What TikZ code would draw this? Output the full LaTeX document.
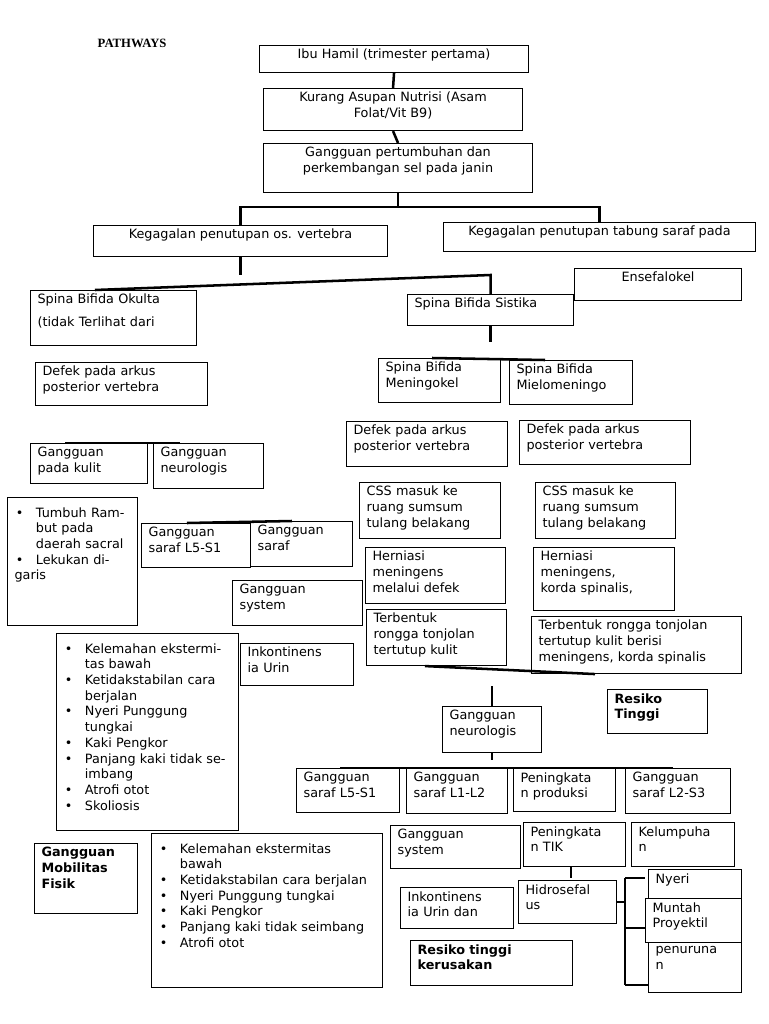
\documentclass[tikz,border=0pt]{standalone}
\usepackage{fontspec}
\setmainfont{DejaVu Sans}
\newfontfamily\tms{Liberation Serif}
\usetikzlibrary{calc}
\tikzset{
  box/.style={draw,line width=0.8pt,anchor=north west,inner sep=0pt},
  txt/.style={anchor=north west,inner sep=0pt,align=left,font=\fontsize{9.6}{11.8}\selectfont},
  txtc/.style={anchor=north,inner sep=0pt,align=center,font=\fontsize{9.6}{11.8}\selectfont},
  conn/.style={line width=1.9pt}
}
\newcommand\bx[6]{%
  \pgfmathsetlengthmacro\bw{(#4-#2)*0.75pt}\pgfmathsetlengthmacro\bh{(#5-#3)*0.75pt}%
  \pgfmathsetlengthmacro\tw{(#4-#2-12)*0.75pt}%
  \node[box,minimum width=\bw,minimum height=\bh] (#1) at (#2,#3) {};
  \node[txt,text width=\tw] at ([xshift=5.5pt,yshift=-3pt]#1.north west) {#6};}
\newcommand\bxc[6]{%
  \pgfmathsetlengthmacro\bw{(#4-#2)*0.75pt}\pgfmathsetlengthmacro\bh{(#5-#3)*0.75pt}%
  \node[box,minimum width=\bw,minimum height=\bh] (#1) at (#2,#3) {};
  \node[txtc] at ([yshift=-3pt]#1.north) {#6};}
\newcommand\itm[1]{\par\hangindent=16pt\hangafter=1\noindent\makebox[16pt][l]{\hspace{1pt}\textbullet}#1}
\begin{document}
\begin{tikzpicture}[x=0.75pt,y=-0.75pt]
\useasboundingbox (0,0) rectangle (768,1024);
\node[anchor=west,font=\tms\bfseries\fontsize{9.5}{11}\selectfont] (title) at (93,43) {PATHWAYS};
\bxc{n1}{259}{45}{528}{72}{Ibu Hamil (trimester pertama)}
\bxc{n2}{263}{88}{522}{130}{Kurang Asupan Nutrisi (Asam\\Folat/Vit B9)}
\bxc{n3}{263}{143}{532}{192}{Gangguan pertumbuhan dan\\perkembangan sel pada janin}
\bxc{n4}{93}{225}{387}{256}{Kegagalan penutupan os. vertebra}
\bxc{n5}{443}{222}{755}{251}{Kegagalan penutupan tabung saraf pada}
\bxc{n6}{574}{268}{741}{300}{Ensefalokel}
\bx{n7}{30}{290}{196}{345}{Spina Bifida Okulta\\[5pt](tidak Terlihat dari}
\bx{n8}{407}{294}{573}{325}{Spina Bifida Sistika}
\bx{n9}{35}{362}{207}{405}{Defek pada arkus\\posterior vertebra}
\bx{n10}{30}{443}{147}{483}{Gangguan\\pada kulit}
\bx{n11}{153}{443}{263}{488}{Gangguan\\neurologis}
\bx{n12}{7}{497}{137}{625}{\itm{Tumbuh Rambut pada daerah sacral}\itm{Lekukan digaris}}
\bx{n13}{141}{523}{250}{567}{Gangguan\\saraf L5-S1}
\bx{n14}{250}{521}{352}{566}{Gangguan\\saraf}
\bx{n15}{232}{580}{362}{625}{Gangguan\\system}
\bx{n16}{240}{643}{353}{685}{Inkontinens\\ia Urin}
\bx{n17}{56}{633}{238}{830}{\itm{Kelemahan ekstermitas bawah}\itm{Ketidakstabilan cara berjalan}\itm{Nyeri Punggung tungkai}\itm{Kaki Pengkor}\itm{Panjang kaki tidak seimbang}\itm{Atrofi otot}\itm{Skoliosis}}
\bx{n18}{34}{843}{137}{913}{\textbf{Gangguan}\\\textbf{Mobilitas}\\\textbf{Fisik}}
\bx{n19}{378}{358}{500}{402}{Spina Bifida\\Meningokel}
\bx{n20}{509}{360}{632}{404}{Spina Bifida\\Mielomeningo}
\bx{n21}{346}{421}{507}{466}{Defek pada arkus\\posterior vertebra}
\bx{n22}{519}{420}{690}{464}{Defek pada arkus\\posterior vertebra}
\bx{n23}{359}{482}{500}{538}{CSS masuk ke\\ruang sumsum\\tulang belakang}
\bx{n24}{535}{482}{675}{538}{CSS masuk ke\\ruang sumsum\\tulang belakang}
\bx{n25}{365}{547}{505}{603}{Herniasi\\meningens\\melalui defek}
\bx{n26}{533}{547}{674}{610}{Herniasi\\meningens,\\korda spinalis,}
\bx{n27}{366}{609}{506}{665}{Terbentuk\\rongga tonjolan\\tertutup kulit}
\bx{n28}{531}{616}{741}{673}{Terbentuk rongga tonjolan\\tertutup kulit berisi\\meningens, korda spinalis}
\bx{n29}{607}{689}{707}{733}{\textbf{Resiko}\\\textbf{Tinggi}}
\bx{n30}{442}{706}{541}{752}{Gangguan\\neurologis}
\bx{n31}{296}{768}{399}{812}{Gangguan\\saraf L5-S1}
\bx{n32}{406}{768}{507}{813}{Gangguan\\saraf L1-L2}
\bx{n33}{513}{768}{615}{811}{Peningkata\\n produksi}
\bx{n34}{625}{768}{730}{813}{Gangguan\\saraf L2-S3}
\bx{n35}{151}{833}{382}{987}{\itm{Kelemahan ekstermitas bawah}\itm{Ketidakstabilan cara berjalan}\itm{Nyeri Punggung tungkai}\itm{Kaki Pengkor}\itm{Panjang kaki tidak seimbang}\itm{Atrofi otot}}
\bx{n36}{390}{825}{520}{868}{Gangguan\\system}
\bx{n37}{400}{887}{513}{928}{Inkontinens\\ia Urin dan}
\bx{n38}{410}{940}{572}{985}{\textbf{Resiko tinggi}\\\textbf{kerusakan}}
\bx{n39}{523}{822}{625}{866}{Peningkata\\n TIK}
\bx{n40}{518}{880}{616}{923}{Hidrosefal\\us}
\bx{n41}{631}{822}{734}{866}{Kelumpuha\\n}
\bx{n42}{648}{869}{741}{898}{Nyeri}
\bx{n44}{648}{942}{741}{992}{penuruna\\n}
\bx{n43}{645}{898}{741}{942}{Muntah\\Proyektil}
% connectors
\draw[conn] (n1.south) -- (n2.north);
\draw[conn] (n2.south) -- (n3.north);
\draw[conn] (n3.south) -- (n3.south |- 0,207);
\draw[conn] (n4.north) -- (n4.north |- 0,207) -- (n5.north |- 0,207) -- (n5.north);
\draw[conn] ($(n6.north west)+(32,0)$) -- ($(n6.north west)+(32,0)$ |- n5.south);
\draw[conn] (n4.south) -- (n4.south |- 0,275);
\draw[conn] ($(n7.north west)+(65,0)$) -- ($(n7.north west)+(65,0)$ |- 0,275) -- (n8.north |- 0,275) -- (n8.north);
\draw[conn] ($(n9.north west)+(82,0)$) -- ($(n9.north west)+(82,0)$ |- n7.south);
\draw[conn] ($(n9.south west)+(82,0)$) -- ($(n9.south west)+(82,0)$ |- 0,425);
\draw[conn] ($(n10.north west)+(35,0)$) -- ($(n10.north west)+(35,0)$ |- 0,425) -- ($(n11.north west)+(27,0)$ |- 0,425) -- ($(n11.north west)+(27,0)$);
\draw[conn] ($(n10.south west)+(35,0)$) -- ($(n10.south west)+(35,0)$ |- n12.north);
\draw[conn] ($(n11.south west)+(57,0)$) -- ($(n11.south west)+(57,0)$ |- 0,507);
\draw[conn] ($(n13.north west)+(46,0)$) -- ($(n13.north west)+(46,0)$ |- 0,507) -- ($(n14.north west)+(42,0)$ |- 0,507) -- ($(n14.north west)+(42,0)$);
\draw[conn] ($(n14.south west)+(42,0)$) -- ($(n14.south west)+(42,0)$ |- n15.north);
\draw[conn] ($(n15.south west)+(60,0)$) -- ($(n15.south west)+(60,0)$ |- n16.north);
\draw[conn] ($(n13.south west)+(45,0)$) -- ($(n13.south west)+(45,0)$ |- n17.north);
\draw[conn] ($(n18.north west)+(66,0)$) -- ($(n18.north west)+(66,0)$ |- n17.south);
\draw[conn] (n8.south) -- (n8.south |- 0,342);
\draw[conn] ($(n19.north west)+(54,0)$) -- ($(n19.north west)+(54,0)$ |- 0,342) -- ($(n20.north west)+(36,0)$ |- 0,342) -- ($(n20.north west)+(36,0)$);
\draw[conn] ($(n19.south west)+(54,0)$) -- ($(n19.south west)+(54,0)$ |- n21.north);
\draw[conn] ($(n20.south west)+(61,0)$) -- ($(n20.south west)+(61,0)$ |- n22.north);
\draw[conn] ($(n21.south west)+(86,0)$) -- ($(n21.south west)+(86,0)$ |- n23.north);
\draw[conn] ($(n22.south west)+(68,0)$) -- ($(n22.south west)+(68,0)$ |- n24.north);
\draw[conn] ($(n23.south west)+(73,0)$) -- ($(n23.south west)+(73,0)$ |- n25.north);
\draw[conn] ($(n24.south west)+(56,0)$) -- ($(n24.south west)+(56,0)$ |- n26.north);
\draw[conn] ($(n25.south west)+(67,0)$) -- ($(n25.south west)+(67,0)$ |- n27.north);
\draw[conn] ($(n26.south west)+(56,0)$) -- ($(n26.south west)+(56,0)$ |- n28.north);
\draw[conn] ($(n27.south west)+(59,0)$) -- ($(n27.south west)+(59,0)$ |- 0,686) -- ($(n28.south west)+(64,0)$ |- 0,686) -- ($(n28.south west)+(64,0)$);
\draw[conn] (n30.north) -- (n30.north |- 0,686);
\draw[conn] ($(n28.south west)+(114,0)$) -- ($(n28.south west)+(114,0)$ |- n29.north);
\draw[conn] (n30.south) -- (n30.south |- 0,760);
\draw[conn] ($(n31.north west)+(44,0)$) -- ($(n31.north west)+(44,0)$ |- 0,760) -- ($(n34.north west)+(48,0)$ |- 0,760) -- ($(n34.north west)+(48,0)$);
\draw[conn] ($(n32.north west)+(34,0)$) -- ($(n32.north west)+(34,0)$ |- 0,760);
\draw[conn] ($(n33.north west)+(40,0)$) -- ($(n33.north west)+(40,0)$ |- 0,760);
\draw[conn] ($(n31.south west)+(50,0)$) -- ($(n31.south west)+(50,0)$ |- n35.north);
\draw[conn] ($(n32.south west)+(53,0)$) -- ($(n32.south west)+(53,0)$ |- n36.north);
\draw[conn] ($(n36.south west)+(69,0)$) -- ($(n36.south west)+(69,0)$ |- n37.north);
\draw[conn] ($(n37.south west)+(59,0)$) -- ($(n37.south west)+(59,0)$ |- n38.north);
\draw[conn] ($(n33.south west)+(44,0)$) -- ($(n33.south west)+(44,0)$ |- n39.north);
\draw[conn] ($(n34.south west)+(49,0)$) -- ($(n34.south west)+(49,0)$ |- n41.north);
\draw[conn] ($(n39.south west)+(48,0)$) -- ++(0,11) coordinate (hs);
\coordinate (br) at (625,0);
\draw[conn] (n40.east) -- (br |- n40.east);
\draw[conn] (br |- 0,878) -- (br |- 0,985);
\draw[conn] (br |- 0,878) -- ($(br |- 0,878)+(20,0)$) coordinate (t1);
\draw[conn] (br |- 0,928) -- (n43.west |- 0,928);
\draw[conn] (br |- 0,985) -- (n44.west |- 0,985);
\end{tikzpicture}
\end{document}
